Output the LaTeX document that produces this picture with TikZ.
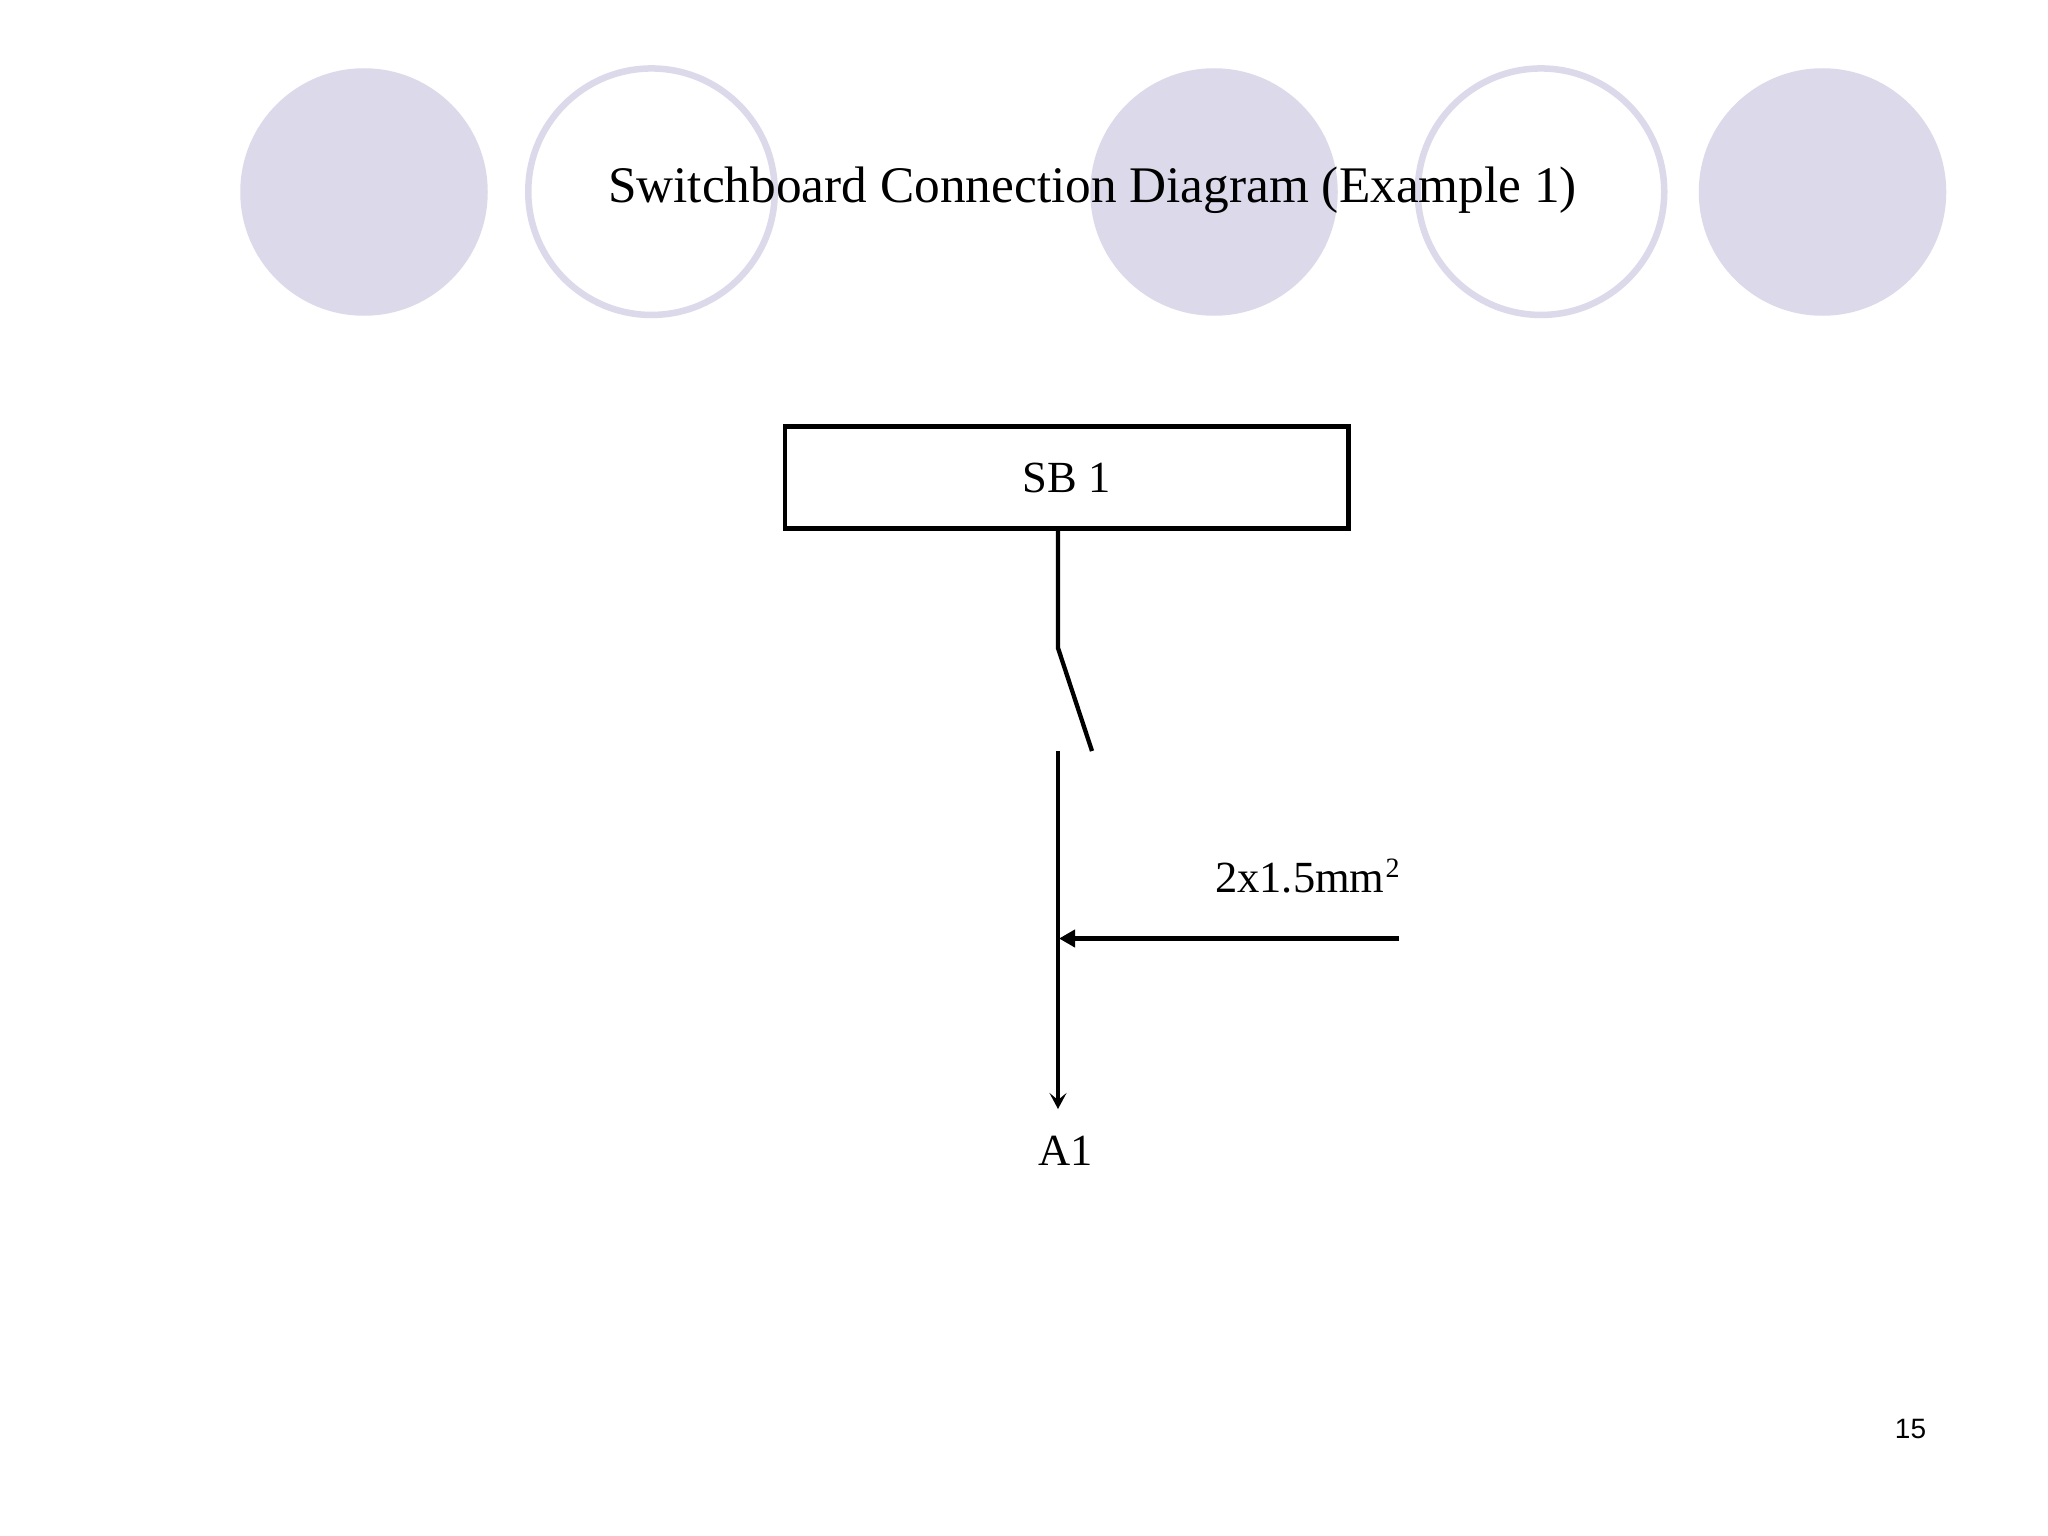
\documentclass[tikz,border=0pt]{standalone}
\usepackage{fontspec}
\setmainfont{Liberation Serif}
\newfontfamily\numfont{Liberation Sans}
\usetikzlibrary{arrows.meta}
\definecolor{lav}{HTML}{DBD9EA}
\tikzset{
  x=1pt,y=-1pt,
  disc/.style={circle,fill=lav,draw=none,minimum size=247.5pt,inner sep=0pt},
  ring/.style={circle,fill=none,draw=lav,line width=6.5pt,minimum size=246.5pt,inner sep=0pt,outer sep=0pt},
  wire/.style={line width=4.3pt,black},
  lbl/.style={inner sep=0pt,anchor=base,font=\fontsize{44.5}{54}\selectfont},
  busbar/.style={draw=black,line width=4.5pt,fill=white,minimum width=563.3pt,minimum height=102.2pt,inner sep=0pt,outer sep=0pt}
}
\begin{document}
\begin{tikzpicture}
\useasboundingbox (0,0) rectangle (2048,1536);
\fill[white] (0,0) rectangle (2048,1536);
\node[disc] (d1) at (364,192) {};
\node[ring] (r1) at (651.5,191.7) {};
\node[disc] (d2) at (1214,192) {};
\node[ring] (r2) at (1541,191.7) {};
\node[disc] (d3) at (1822.5,192) {};
\node[inner sep=0pt,anchor=base,font=\fontsize{51.3}{60}\selectfont] (title) at (1092.5,202.7) {Switchboard Connection Diagram (Example 1)};
\node[busbar] (sb) at (1066.7,477.6) {};
\node[lbl] (sbt) at (1066.5,492.5) {SB 1};
\coordinate (top) at (1058,528);
\coordinate (pivot) at (1058,648);
\coordinate (blade) at (1092,751);
\coordinate (low) at (1058,751);
\coordinate (end) at (1058,1109);
\coordinate (junc) at (1059,938.5);
\coordinate (tail) at (1399,938.5);
\draw[wire,line join=bevel] (top) -- (pivot) -- (blade);
\draw[wire,-{Stealth[length=16pt,width=17pt,inset=7pt]}] (low) -- (end);
\draw[wire,-{Triangle[length=16pt,width=17pt]}] (tail) -- (junc);
\node[lbl,anchor=base west] (cable) at (1215,892) {2x1.5mm\kern1pt\raisebox{15pt}{\fontsize{28}{30}\selectfont 2}};
\node[lbl] (a1) at (1066,1165) {A1};
\node[inner sep=0pt,font=\numfont\fontsize{28}{32}\selectfont] (pg) at (1910.5,1429) {15};
\end{tikzpicture}
\end{document}
